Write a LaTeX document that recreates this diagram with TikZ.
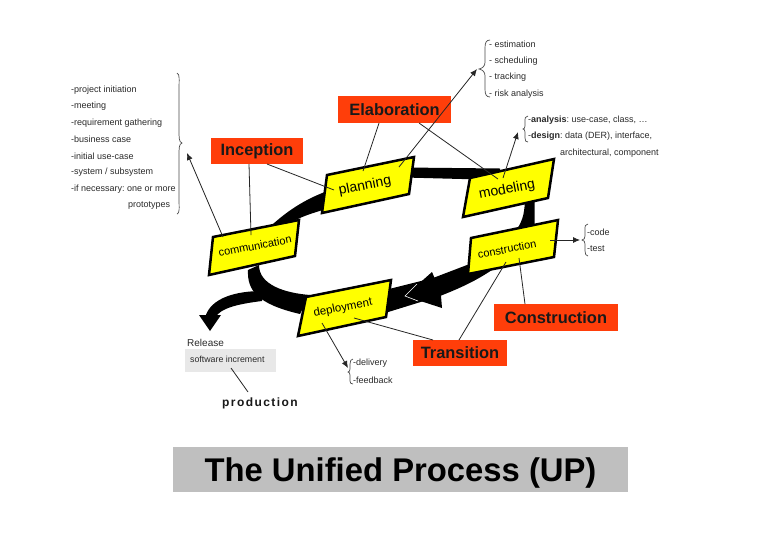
\documentclass[tikz,border=0pt]{standalone}
\usepackage{fontspec}
\setmainfont{Liberation Sans}
\frenchspacing
\usetikzlibrary{arrows.meta}
\definecolor{redbox}{HTML}{FF3E0A}
\definecolor{yelbox}{HTML}{FFFF00}
\definecolor{txt}{HTML}{2A2A2A}
\tikzset{
 phase/.style={fill=yelbox,draw=black,line width=2.5pt,line join=miter},
 steplabel/.style={inner sep=0pt,rotate=11,text=black},
 redlabel/.style={fill=redbox,inner sep=0pt,minimum height=27pt,font=\bfseries\fontsize{16.4}{17}\selectfont,text=black!90},
 listitem/.style={anchor=west,inner sep=0pt,font=\fontsize{9}{9}\selectfont,text=txt},
 link/.style={draw=black!85,line width=0.8pt},
 linkarrow/.style={link,-{Latex[length=7pt,width=6pt]}},
 bracepath/.style={draw=black!70,line width=0.7pt},
 band/.style={fill=black,draw=none}
}
\begin{document}
\begin{tikzpicture}[x=1pt,y=-1pt]
\useasboundingbox (0,0) rectangle (768,542);
\fill[white] (0,0) rectangle (768,542);
% bands
\fill[band] (273,224) .. controls (291,208) and (308,198) .. (330,190) -- (330,208) .. controls (312,213) and (300,217) .. (288,224) -- cycle;
\fill[band] (405,167.5) -- (500,168.5) -- (500,180) -- (405,177.5) -- cycle;
\fill[band] (525,195) -- (534.5,195) -- (534.5,225) -- (517,229) .. controls (523,220) and (525,212) .. (525,195) -- cycle;
\fill[band] (248,270) .. controls (247,290) and (257,304) .. (300,314) -- (310,295) .. controls (285,293) and (259,285) .. (259,265) -- cycle;
\fill[band] (262,291) .. controls (238,291) and (210,297) .. (205,318) -- (215,318) .. controls (220,308) and (238,304) .. (262,301) -- cycle;
\fill[band] (199,315) -- (221,315) -- (210,331) -- cycle;
\fill[band] (385,290) -- (433,278) -- (467,265) -- (480,260) -- (495,268) .. controls (480,278) and (468,285) .. (440,296) -- (385,313) -- cycle;
\fill[band] (405,296) -- (432,272) -- (435,279) -- (441,296) -- (442,308) -- cycle;
\draw[white,line width=0.6pt] (417,284) -- (405,296) -- (418,301);
% parallelograms
\coordinate (cmA) at (213,237); \coordinate (cmB) at (299,220); \coordinate (cmC) at (295,256); \coordinate (cmD) at (209,275);
\coordinate (plA) at (327,175); \coordinate (plB) at (414,157); \coordinate (plC) at (409,194); \coordinate (plD) at (322,213);
\coordinate (moA) at (470,178); \coordinate (moB) at (554,159); \coordinate (moC) at (548,198); \coordinate (moD) at (463,217);
\coordinate (coA) at (471,238); \coordinate (coB) at (558,220); \coordinate (coC) at (554,257); \coordinate (coD) at (468,274);
\coordinate (deA) at (306,297); \coordinate (deB) at (391,280); \coordinate (deC) at (386,317); \coordinate (deD) at (298,336);
\draw[phase] (cmA)--(cmB)--(cmC)--(cmD)--cycle;
\draw[phase] (plA)--(plB)--(plC)--(plD)--cycle;
\draw[phase] (moA)--(moB)--(moC)--(moD)--cycle;
\draw[phase] (coA)--(coB)--(coC)--(coD)--cycle;
\draw[phase] (deA)--(deB)--(deC)--(deD)--cycle;
\node[steplabel,font=\fontsize{11}{11}\selectfont] (communication) at (255,246) {communication};
\node[steplabel,font=\fontsize{14}{14}\selectfont] (planning) at (365,186) {planning};
\node[steplabel,font=\fontsize{14}{14}\selectfont] (modeling) at (507,190) {modeling};
\node[steplabel,font=\fontsize{11}{11}\selectfont] (construction) at (507,249) {construction};
\node[steplabel,font=\fontsize{11.5}{11.5}\selectfont] (deployment) at (343,308) {deployment};
% red labels
\node[redlabel,minimum width=92pt,minimum height=26pt] (inception) at (257,151) {Inception};
\node[redlabel,minimum width=113pt] (elaboration) at (394.5,109.5) {Elaboration};
\node[redlabel,minimum width=124pt] (constr) at (556,317.5) {Construction};
\node[redlabel,minimum width=94pt,minimum height=26pt] (transition) at (460,353) {Transition};
% list coordinates
\coordinate (plEnd) at (399,167);
\coordinate (moEnd) at (503,178);
\coordinate (coEnd) at (550,240);
\coordinate (deEnd) at (322,323);
\coordinate (braceE) at (477,69);
\coordinate (braceA) at (518,132);
\coordinate (braceC) at (580,240);
\coordinate (braceD) at (348,368);
\coordinate (braceP) at (187,153);
% links
\draw[link] (249,164) -- (251,235);
\draw[link] (267,164) -- (334,190);
\draw[link] (379,123) -- (363,171);
\draw[link] (419,123) -- (498,179);
\draw[link] (519,258) -- (525,304);
\draw[link] (506,262) -- (459,340);
\draw[link] (354,318) -- (433,340);
\draw[linkarrow] (plEnd) -- (braceE);
\draw[linkarrow] (223,237) -- (braceP);
\draw[linkarrow] (moEnd) -- (braceA);
\draw[linkarrow] (coEnd) -- (braceC);
\draw[linkarrow] (deEnd) -- (braceD);
% braces
\draw[bracepath] (177,73) .. controls (180,74) and (179,80) .. (179,90) -- (179,130) .. controls (179,138) and (179,142) .. (182,143) .. controls (179,144) and (179,148) .. (179,156) -- (179,198) .. controls (179,208) and (180,213) .. (177,214);
\draw[bracepath] (490,40) .. controls (486,40) and (485,43) .. (485,48) -- (485,62) .. controls (485,66) and (483,68) .. (479,69) .. controls (483,70) and (485,72) .. (485,76) -- (485,89) .. controls (485,94) and (486,97) .. (490,97);
\draw[bracepath] (528,116) .. controls (525,116) and (525,118) .. (525,122) -- (525,126) .. controls (525,128) and (524,129) .. (523,129) .. controls (524,129) and (525,130) .. (525,132) -- (525,138) .. controls (525,141) and (526,142) .. (528,142);
\draw[bracepath] (588,224) .. controls (585,224) and (585,226) .. (585,230) -- (585,236) .. controls (585,238) and (584,240) .. (582,240) .. controls (584,240) and (585,242) .. (585,244) -- (585,251) .. controls (585,254) and (586,256) .. (588,256);
\draw[bracepath] (353,359) .. controls (351,359) and (350,361) .. (350,364) -- (350,369) .. controls (350,371) and (349,372) .. (348,372) .. controls (349,372) and (350,373) .. (350,375) -- (350,381) .. controls (350,383) and (351,384) .. (353,384);
% left list
\node[listitem] (l1) at (71,90.5) {-project initiation};
\node[listitem] (l2) at (71,106.5) {-meeting};
\node[listitem] (l3) at (71,123) {-requirement gathering};
\node[listitem] (l4) at (71,139.5) {-business case};
\node[listitem] (l5) at (71,156) {-initial use-case};
\node[listitem] (l6) at (71,172.5) {-system / subsystem};
\node[listitem] (l7) at (71,189) {-if necessary: one or more};
\node[listitem] (l8) at (128,205.5) {prototypes};
% estimation list
\node[listitem] (e1) at (489,44.5) {- estimation};
\node[listitem] (e2) at (489,61) {- scheduling};
\node[listitem] (e3) at (489,77.5) {- tracking};
\node[listitem] (e4) at (489,94) {- risk analysis};
% analysis list
\node[listitem] (a1) at (528,120.5) {-\textbf{analysis}: use-case, class, …};
\node[listitem] (a2) at (528,136.5) {-\textbf{design}: data (DER), interface,};
\node[listitem] (a3) at (560,153) {architectural, component};
% code list
\node[listitem] (c1) at (587,232) {-code};
\node[listitem] (c2) at (587,248.5) {-test};
% delivery list
\node[listitem] (d1) at (353,363) {-delivery};
\node[listitem] (d2) at (353,380) {-feedback};
% release
\node[anchor=west,inner sep=0pt,font=\fontsize{10}{10}\selectfont,text=txt] (release) at (187,342.5) {Release};
\node[fill=black!9,inner sep=0pt,minimum width=91pt,minimum height=23pt] (incbox) at (230.5,360.5) {};
\node[anchor=west,inner sep=0pt,font=\fontsize{8.8}{8.8}\selectfont,text=txt] (inc) at (190,359) {software increment};
\node[anchor=west,inner sep=0pt,font=\bfseries\fontsize{12}{12}\selectfont,text=black!90] (production) at (222,403) {\addfontfeature{LetterSpace=12}production};
\coordinate (prodTop) at (248,392);
\draw[link] (231,368) -- (prodTop);
% title
\node[fill=black!25,inner sep=0pt,minimum width=455pt,minimum height=45pt] (title) at (400.5,469.5) {};
\node[inner sep=0pt,font=\bfseries\fontsize{32.8}{33}\selectfont,text=black] (titletext) at (400.5,473.5) {The Unified Process (UP)};
\end{tikzpicture}
\end{document}
